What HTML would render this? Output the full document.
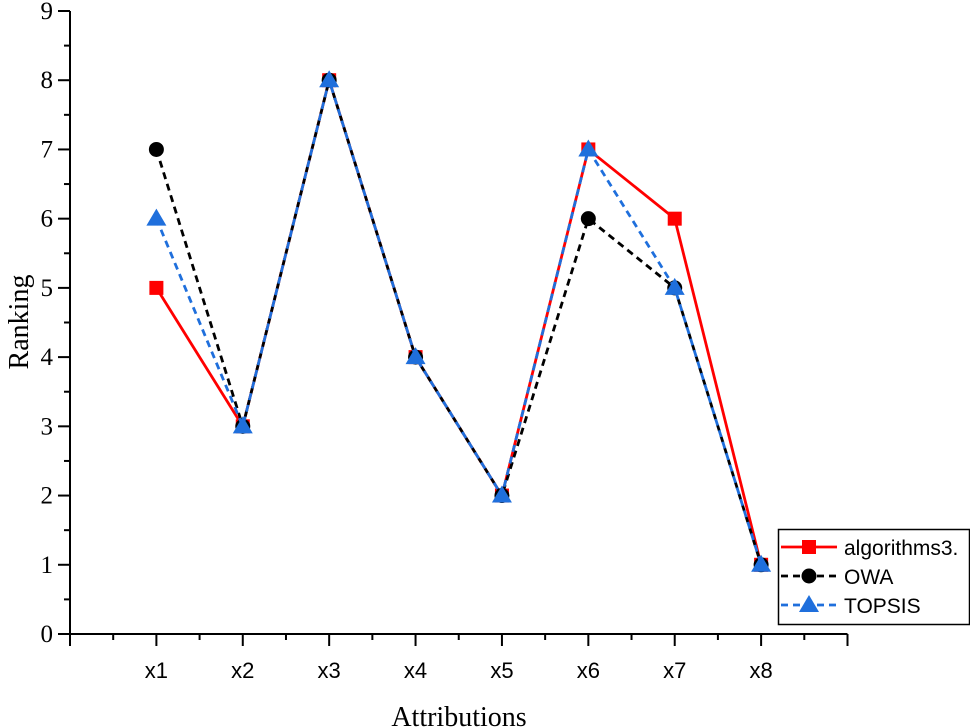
<!DOCTYPE html>
<html><head><meta charset="utf-8"><style>body{margin:0;background:#fff}svg{display:block}</style></head>
<body>
<svg id="chart" width="970" height="728" xmlns="http://www.w3.org/2000/svg"></svg>
<script>
const categories=["x1","x2","x3","x4","x5","x6","x7","x8"];
const algValues=[5,3,8,4,2,7,6,1];
const owaValues=[7,3,8,4,2,6,5,1];
const topsisValues=[6,3,8,4,2,7,5,1];
const yTicks=[0,1,2,3,4,5,6,7,8,9];
const NS="http://www.w3.org/2000/svg";
const svg=document.getElementById('chart');
const x0=70,x1=847.5,y0=634,y9=11;
const X=i=>x0+(i+1)*(x1-x0)/9;
const Y=v=>y0-v*(y0-y9)/9;
function mk(t,a,p){const e=document.createElementNS(NS,t);for(const k in a)e.setAttribute(k,a[k]);(p||svg).appendChild(e);return e;}
const axes=mk('g',{});


mk('line',{x1:x0,y1:y0,x2:x0,y2:y9,stroke:'#000','stroke-width':2},axes);
mk('line',{x1:x0-1,y1:y0,x2:x1,y2:y0,stroke:'#000','stroke-width':2},axes);
yTicks.forEach(v=>{
  mk('line',{x1:x0-12,y1:Y(v),x2:x0,y2:Y(v),stroke:'#000','stroke-width':2},axes);
  if(v<9)mk('line',{x1:x0-6,y1:Y(v+0.5),x2:x0,y2:Y(v+0.5),stroke:'#000','stroke-width':2},axes);
  const t=mk('text',{x:x0-17,y:Y(v)+8,'text-anchor':'end','font-family':'Liberation Serif, serif','font-size':25},axes);
  t.textContent=v;
  
  
});
for(let i=-1;i<=8;i++){
  mk('line',{x1:X(i),y1:y0,x2:X(i),y2:y0+12,stroke:'#000','stroke-width':2},axes);
  if(i<8)mk('line',{x1:(X(i)+X(i+1))/2,y1:y0,x2:(X(i)+X(i+1))/2,y2:y0+6,stroke:'#000','stroke-width':2},axes);
}
categories.forEach((c,i)=>{
  const t=mk('text',{x:X(i),y:678,'text-anchor':'middle','font-family':'Liberation Sans, sans-serif','font-size':22},axes);
  t.textContent=c;
  
  
});
const yt=mk('text',{x:0,y:0,transform:'translate(28,322) rotate(-90)','text-anchor':'middle','font-family':'Liberation Serif, serif','font-size':28});
yt.textContent='Ranking';


const xt=mk('text',{x:459,y:726,'text-anchor':'middle','font-family':'Liberation Serif, serif','font-size':28});
xt.textContent='Attributions';


function marker(g,type,cx,cy,color){
  if(type==='sq')mk('rect',{x:cx-7,y:cy-7,width:14,height:14,fill:color},g);
  else if(type==='ci')mk('circle',{cx:cx,cy:cy,r:7.5,fill:color},g);
  else mk('polygon',{points:`${cx},${cy-10} ${cx-10},${cy+7} ${cx+10},${cy+7}`,fill:color},g);
}
const series=[
 {vals:algValues,color:'#ff0000',dash:'',m:'sq',name:'series-algorithms3'},
 {vals:owaValues,color:'#000000',dash:'7,5',m:'ci',name:'series-owa'},
 {vals:topsisValues,color:'#1f6fdc',dash:'7,5',m:'tr',name:'series-topsis'}];
series.forEach(s=>{
  const g=mk('g',{});
  
  
  mk('polyline',{points:s.vals.map((v,i)=>X(i)+','+Y(v)).join(' '),fill:'none',stroke:s.color,'stroke-width':2.8,'stroke-dasharray':s.dash},g);
  s.vals.forEach((v,i)=>marker(g,s.m,X(i),Y(v),s.color));
});
const lg=mk('g',{});


mk('rect',{x:778.5,y:529.5,width:191,height:95,fill:'#fff',stroke:'#000','stroke-width':1.5},lg);
const labels=['algorithms3.','OWA','TOPSIS'];
series.forEach((s,k)=>{
  const e=mk('g',{},lg);
  
  
  const y=547+k*29;
  mk('line',{x1:781,y1:y,x2:837,y2:y,stroke:s.color,'stroke-width':2.8,'stroke-dasharray':s.dash},e);
  marker(e,s.m,809,y,s.color);
  const t=mk('text',{x:844,y:y+8,'font-family':'Liberation Sans, sans-serif','font-size':21},e);
  t.textContent=labels[k];
});
</script>
</body></html>
